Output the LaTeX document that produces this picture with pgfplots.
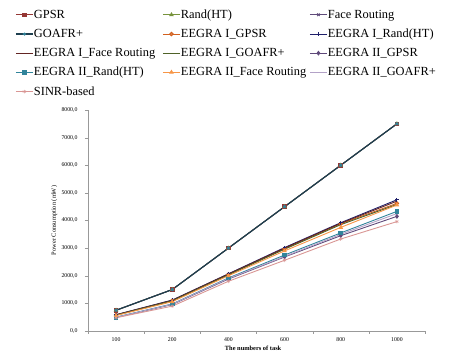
\documentclass[border=0pt]{standalone}
\usepackage{pgfplots}
\pgfplotsset{compat=1.18}
\usepackage{fontspec}
\setmainfont{Liberation Serif}
\definecolor{cGPSR}{HTML}{953735}
\definecolor{cRand}{HTML}{77933C}
\definecolor{cFace}{HTML}{5F4B7A}
\definecolor{cGOA}{HTML}{1E3F4F}
\definecolor{cEIG}{HTML}{D2601E}
\definecolor{cEIR}{HTML}{1F1F6A}
\definecolor{cEIF}{HTML}{632523}
\definecolor{cEIO}{HTML}{4F6228}
\definecolor{cEIIG}{HTML}{5F497A}
\definecolor{cEIIR}{HTML}{31849B}
\definecolor{cEIIF}{HTML}{F79646}
\definecolor{cEIIO}{HTML}{B3A2C7}
\definecolor{cSINR}{HTML}{D99694}
\newcommand{\LE}[1]{\makebox[128pt][l]{#1}}
\begin{document}
\begin{tikzpicture}
\path[use as bounding box] (0,0) rectangle (474pt,353pt);
\begin{axis}[
  at={(88pt,22pt)}, anchor=south west,
  scale only axis, width=337pt, height=221pt,
  xmin=-0.5, xmax=5.5, ymin=0, ymax=8000,
  axis lines*=left,
  axis line style={draw=gray!80, line width=0.6pt},
  xtick={0,...,5},
  xticklabels={100,200,400,600,800,1000},
  minor xtick={-0.5,0.5,...,5.5},
  major x tick style={draw=none},
  minor x tick style={draw=gray!80},
  ytick={0,1000,...,8000},
  ytick style={draw=gray!80},
  tick align=outside,
  major tick length=3pt, minor tick length=3pt,
  /pgf/number format/assume math mode=true,
  yticklabel={\pgfmathprintnumber[fixed,fixed zerofill,precision=1,use comma,1000 sep={}]{\tick}},
  yticklabel style={font=\fontsize{5.8}{6}\selectfont, xshift=-4pt},
  xticklabel style={font=\fontsize{5.8}{6}\selectfont, yshift=-0.5pt},
  xlabel={\textbf{The numbers of task}},
  xlabel style={font=\fontsize{6.4}{7}\selectfont, at={(axis description cs:0.49,-0.08)}, anchor=center},
  ylabel={Power Consumption (mW)},
  ylabel style={font=\fontsize{6.4}{7}\selectfont, at={(axis description cs:-0.1,0.5)}, anchor=center, rotate=0},
  legend columns=3,
  legend cell align=left,
  legend style={at={(-0.2166,1.457)}, anchor=north west, draw=none, fill=none,
    inner sep=0pt, row sep=8.2pt,
    font=\fontsize{12.4}{13}\selectfont,
    nodes={inner sep=0.5pt}},
  every axis plot/.append style={line width=0.9pt, mark size=1.8pt},
]
\addplot[color=cGPSR, mark=square*, mark options={fill=cGPSR}] coordinates {(0,750)(1,1500)(2,3000)(3,4500)(4,6000)(5,7500)};
\addlegendentry{\LE{GPSR}}
\addplot[color=cRand, mark=triangle*, mark options={fill=cRand}] coordinates {(0,750)(1,1500)(2,3000)(3,4500)(4,6000)(5,7500)};
\addlegendentry{\LE{Rand(HT)}}
\addplot[color=cFace, mark=x] coordinates {(0,750)(1,1500)(2,3000)(3,4500)(4,6000)(5,7500)};
\addlegendentry{\LE{Face Routing}}
\addplot[color=cGOA, mark=asterisk, line width=1.2pt, mark options={line width=0.6pt, draw=cEIIR}] coordinates {(0,750)(1,1500)(2,3000)(3,4500)(4,6000)(5,7500)};
\addlegendentry{\LE{GOAFR+}}
\addplot[color=cEIG, mark=*, mark options={fill=cEIG!80!white}] coordinates {(0,580)(1,1100)(2,2050)(3,2980)(4,3880)(5,4620)};
\addlegendentry{\LE{EEGRA I\_GPSR}}
\addplot[color=cEIR, mark=+] coordinates {(0,590)(1,1120)(2,2070)(3,3020)(4,3920)(5,4750)};
\addlegendentry{\LE{EEGRA I\_Rand(HT)}}
\addplot[color=cEIF] coordinates {(0,585)(1,1110)(2,2060)(3,3000)(4,3900)(5,4700)};
\addlegendentry{\LE{EEGRA I\_Face Routing}}
\addplot[color=cEIO] coordinates {(0,575)(1,1090)(2,2030)(3,2960)(4,3850)(5,4580)};
\addlegendentry{\LE{EEGRA I\_GOAFR+}}
\addplot[color=cEIIG, mark=diamond*, mark options={fill=cEIIG}] coordinates {(0,490)(1,960)(2,1880)(3,2680)(4,3450)(5,4150)};
\addlegendentry{\LE{EEGRA II\_GPSR}}
\addplot[color=cEIIR, mark=square*, mark options={fill=cEIIR}] coordinates {(0,500)(1,980)(2,1920)(3,2750)(4,3550)(5,4330)};
\addlegendentry{\LE{EEGRA II\_Rand(HT)}}
\addplot[color=cEIIF, mark=triangle*, mark options={fill=cEIIF}] coordinates {(0,560)(1,1060)(2,2000)(3,2900)(4,3750)(5,4560)};
\addlegendentry{\LE{EEGRA II\_Face Routing}}
\addplot[color=cEIIO] coordinates {(0,495)(1,970)(2,1900)(3,2700)(4,3500)(5,4250)};
\addlegendentry{\LE{EEGRA II\_GOAFR+}}
\addplot[color=cSINR, mark=asterisk, mark options={line width=0.5pt}] coordinates {(0,480)(1,900)(2,1800)(3,2560)(4,3330)(5,3960)};
\addlegendentry{\LE{SINR-based}}
\end{axis}
\end{tikzpicture}
\end{document}
